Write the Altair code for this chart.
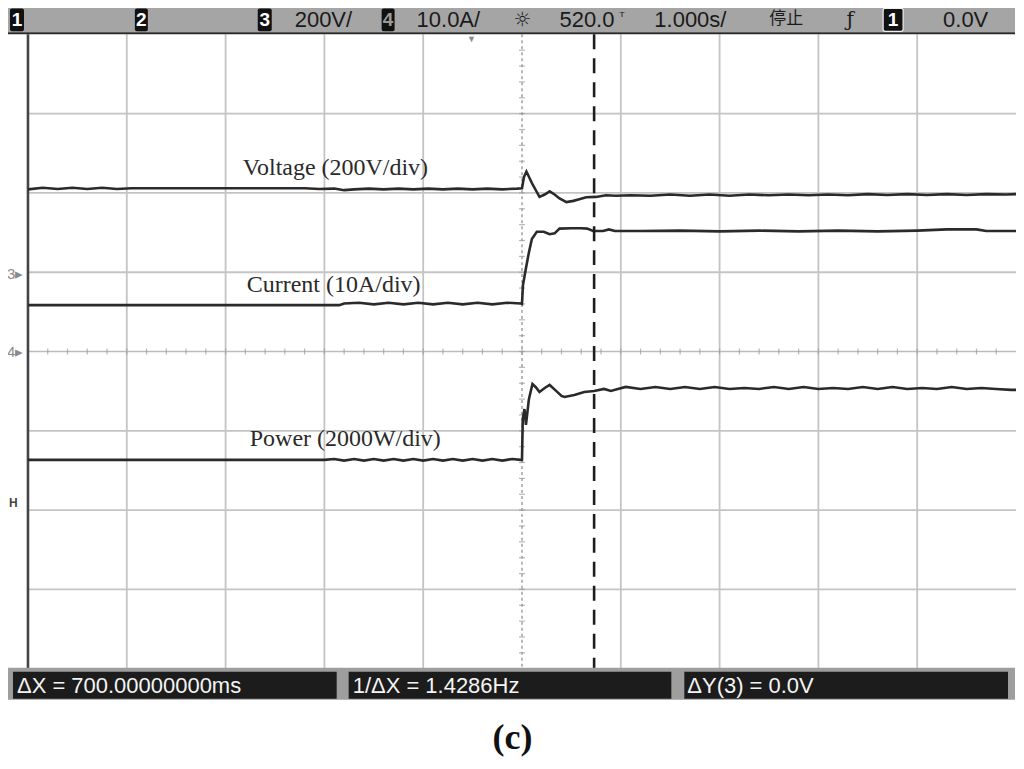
import altair as alt
import pandas as pd
import numpy as np

# ---------------- oscilloscope settings ----------------
VOLT_PER_DIV = 200.0    # channel 3
AMP_PER_DIV = 10.0      # channel 4
WATT_PER_DIV = 2000.0   # math channel
VOLT_GROUND_DIV = 1.0
AMP_GROUND_DIV = 0.0
WATT_GROUND_DIV = -2.0
CURSOR_T = 0.73         # second time cursor (s)

# ---------------- traces (time in s) ----------------
volt_t = [-5.0, -4.85, -4.7, -4.55, -4.4, -4.25, -4.1, -3.95, -3.8,
          -3.4, -3.0, -2.6, -2.2,
          -2.05, -1.9, -1.8, -1.7, -1.55, -1.4, -1.25, -1.1, -0.95, -0.8, -0.65, -0.5, -0.35, -0.2, -0.05,
          0.0,
          0.02, 0.045, 0.1, 0.177, 0.23, 0.28, 0.33, 0.38, 0.45, 0.52, 0.58, 0.65, 0.75, 0.85, 0.95, 1.1,
          1.3, 1.5, 1.7, 1.9, 2.1, 2.3, 2.5, 2.7, 2.9, 3.1, 3.3, 3.5, 3.7, 3.9, 4.1, 4.3, 4.5, 4.7, 4.9, 5.0]
volt_v = [209, 213, 210, 213, 210, 213, 210, 212, 212,
          212, 212, 212, 212,
          210, 211, 207, 209, 211, 209, 211, 209, 211, 209, 211, 209, 211, 209, 211,
          212,
          240, 254, 225, 190, 196, 204, 196, 186, 177, 180, 184, 189, 190, 194, 193, 194,
          193, 196, 193, 196, 193, 196, 194, 196, 194, 196, 194, 197, 195, 197, 195, 197, 195, 197, 196, 197]

curr_t = [-5.0, -1.85, -1.8,
          -1.65, -1.5, -1.35, -1.2, -1.05, -0.9, -0.75, -0.6, -0.45, -0.3, -0.15, -0.01,
          0.0, 0.01, 0.04, 0.07, 0.1, 0.15, 0.22, 0.28, 0.33, 0.38, 0.5, 0.6, 0.66, 0.72, 0.82, 0.88, 0.94,
          1.2, 1.6, 2.0, 2.4, 2.8, 3.2, 3.6, 4.0, 4.3, 4.6, 4.7, 5.0]
curr_a = [5.85, 5.85, 6.05,
          6.15, 5.95, 6.15, 5.95, 6.15, 5.95, 6.15, 5.95, 6.15, 5.95, 6.15, 6.05,
          6.0, 8.4, 10.5, 12.5, 14.2, 15.1, 15.1, 14.8, 14.9, 15.5, 15.55, 15.55, 15.5, 15.2, 15.2, 15.4, 15.2,
          15.2, 15.25, 15.15, 15.25, 15.15, 15.25, 15.15, 15.25, 15.4, 15.4, 15.2, 15.2]

pow_t = [-5.0, -2.0,
         -1.9, -1.8, -1.7, -1.6, -1.5, -1.4, -1.3, -1.2, -1.1, -1.0, -0.9, -0.8, -0.7, -0.6, -0.5, -0.4, -0.3, -0.2, -0.1,
         -0.01, 0.0,
         0.008, 0.025, 0.04, 0.07, 0.106, 0.14, 0.177, 0.23, 0.28, 0.34, 0.4, 0.43, 0.53, 0.63, 0.73, 0.83, 0.9, 0.97, 1.05,
         1.2, 1.35, 1.5, 1.65, 1.8, 1.95, 2.1, 2.25, 2.4, 2.55, 2.7, 2.85, 3.0, 3.15, 3.3, 3.45, 3.6, 3.75, 3.9, 4.05,
         4.2, 4.35, 4.5, 4.65, 4.8, 4.95, 5.0]
pow_w = [1268, 1268,
         1290, 1250, 1290, 1250, 1290, 1250, 1290, 1250, 1290, 1250, 1290, 1250, 1290, 1250, 1290, 1250, 1290, 1250, 1290,
         1268, 1268,
         2300, 2550, 2150, 2800, 3182, 3100, 2981, 3080, 3157, 3020, 2880, 2855, 2905, 2981, 3006, 3057, 3006, 3057, 3107,
         3057, 3107, 3057, 3107, 3057, 3107, 3057, 3082, 3057, 3107, 3057, 3107, 3057, 3082, 3057, 3107,
         3057, 3107, 3057, 3082, 3057, 3107, 3057, 3082, 3057, 3032, 3032]

# graticule (divisions)
grid_t = [-4, -3, -2, -1, 1, 2, 3, 4]
grid_d = [-3, -2, -1, 1, 2, 3]

trace_labels = ["Voltage (200V/div)", "Current (10A/div)", "Power (2000W/div)"]
top_texts = ["200V/", "10.0A/", "520.0", "1.000s/", "停止", "0.0V"]
bottom_texts = ["ΔX = 700.00000000ms", "1/ΔX = 1.4286Hz", "ΔY(3) = 0.0V"]
caption = "(c)"

# ---------------- table ----------------
frames = []
for name, t, vals, g, per in [
    ("voltage", volt_t, volt_v, VOLT_GROUND_DIV, VOLT_PER_DIV),
    ("current", curr_t, curr_a, AMP_GROUND_DIV, AMP_PER_DIV),
    ("power", pow_t, pow_w, WATT_GROUND_DIV, WATT_PER_DIV),
]:
    frames.append(pd.DataFrame({"t": t, "value": vals, "series": name,
                                "div": g + np.array(vals, dtype=float) / per}))
traces = pd.concat(frames, ignore_index=True)

W, H = 989, 635
OX, OY = 28, 34   # page position of the plot origin
xs = alt.Scale(domain=[-5, 5], nice=False, zero=False)
ys = alt.Scale(domain=[-4, 4], nice=False, zero=False)

SANS = "'Liberation Sans', Arial, sans-serif"
SERIF = "'Liberation Serif', 'Times New Roman', serif"
one = pd.DataFrame({"k": [0]})


def rect(x0, x1, y0, y1, fill, **kw):
    return alt.Chart(one).mark_rect(fill=fill, **kw).encode(
        x=alt.value(x0 - OX), x2=alt.value(x1 - OX),
        y=alt.value(y0 - OY), y2=alt.value(y1 - OY))


def text(s, x, y, size, color, font=SANS, align="left", weight="normal"):
    return alt.Chart(one).mark_text(
        text=s, fontSize=size, color=color, font=font, align=align,
        baseline="middle", fontWeight=weight).encode(
        x=alt.value(x - OX), y=alt.value(y - OY))


GRID = "#c4c4c4"
vgrid = alt.Chart(pd.DataFrame({"t": grid_t})).mark_rule(color=GRID, strokeWidth=1.8).encode(
    x=alt.X("t:Q", scale=xs, axis=None))
hgrid = alt.Chart(pd.DataFrame({"d": grid_d})).mark_rule(color=GRID, strokeWidth=1.8).encode(
    y=alt.Y("d:Q", scale=ys, axis=None))

center_h = alt.Chart(one).mark_rule(color="#bcbcbc", strokeWidth=1.6).encode(
    y=alt.Y(datum=0, scale=ys, axis=None))
center_v = alt.Chart(one).mark_rule(color="#9a9a9a", strokeWidth=1.4, strokeDash=[3, 3]).encode(
    x=alt.X(datum=0, scale=xs, axis=None))
tick_t = pd.DataFrame({"t": np.round(np.arange(-4.8, 5.0, 0.2), 2)})
tick_d = pd.DataFrame({"d": np.round(np.arange(-3.8, 4.0, 0.2), 2)})
ticks_h = alt.Chart(tick_t).mark_tick(orient="vertical", size=6, thickness=1.2, color="#9a9a9a").encode(
    x=alt.X("t:Q", scale=xs, axis=None), y=alt.Y(datum=0, scale=ys, axis=None))
ticks_v = alt.Chart(tick_d).mark_tick(orient="horizontal", size=6, thickness=1.2, color="#9a9a9a").encode(
    y=alt.Y("d:Q", scale=ys, axis=None), x=alt.X(datum=0, scale=xs, axis=None))
left_border = alt.Chart(one).mark_rule(color="#454545", strokeWidth=2.6).encode(
    x=alt.X(datum=-5, scale=xs, axis=None))

lines = alt.Chart(traces).mark_line(color="#2a2a2a", strokeWidth=2.6).encode(
    x=alt.X("t:Q", scale=xs, axis=None),
    y=alt.Y("div:Q", scale=ys, axis=None),
    detail="series:N", order="t:Q")

cursor = alt.Chart(one).mark_rule(color="#1e1e1e", strokeWidth=2.6, strokeDash=[15, 9]).encode(
    x=alt.X(datum=CURSOR_T, scale=xs, axis=None))

layers = [vgrid, hgrid, center_h, center_v, ticks_h, ticks_v, left_border, lines, cursor]

# trace labels
layers += [
    text(trace_labels[0], 243, 168, 24, "#2a2a2a", font=SERIF),
    text(trace_labels[1], 247, 285, 24, "#2a2a2a", font=SERIF),
    text(trace_labels[2], 250, 439, 24, "#2a2a2a", font=SERIF),
]

# channel markers on the left edge
layers += [
    text("3▸", 7, 274, 15, "#8a8a8a"),
    text("4▸", 7, 352, 15, "#8a8a8a"),
    text("H", 9, 503, 12, "#444444", weight="bold"),
    text("▼", 472, 39, 9, "#8a8a8a", align="center"),
]

# top status bar
layers += [
    rect(8, 1016, 6, 32, "#a5a5a5"),
    rect(8, 1016, 32, 34, "#2a2a2a"),
    rect(10, 24, 8, 31, "#111111", cornerRadius=2),
    rect(135, 148, 8, 31, "#111111", cornerRadius=2),
    rect(258, 272, 8, 31, "#111111", cornerRadius=2),
    rect(382, 395, 8, 31, "#111111", cornerRadius=2),
    rect(884, 904, 8, 31, "#111111", cornerRadius=2, stroke="#f0f0f0", strokeWidth=1.2),
    text("1", 17, 20, 19, "#ffffff", align="center", weight="bold"),
    text("2", 141.5, 20, 19, "#ffffff", align="center", weight="bold"),
    text("3", 265, 20, 19, "#ffffff", align="center", weight="bold"),
    text("4", 388.5, 20, 19, "#9a9a9a", align="center", weight="bold"),
    text("1", 894, 20, 19, "#ffffff", align="center", weight="bold"),
    text(top_texts[0], 295, 20, 22, "#1a1a1a"),
    text(top_texts[1], 417, 20, 22, "#1a1a1a"),
    text("☼", 523, 20, 20, "#1a1a1a", font="'DejaVu Sans', sans-serif", align="center"),
    text(top_texts[2], 560, 20, 22, "#1a1a1a"),
    text("ᵀ", 620, 17, 13, "#1a1a1a", font="'DejaVu Sans', sans-serif"),
    text(top_texts[3], 655, 20, 22, "#1a1a1a"),
    text(top_texts[4], 770, 19, 17, "#1a1a1a", font="'Noto Sans CJK SC', sans-serif"),
    text("ƒ", 851, 20, 20, "#1a1a1a", font="'DejaVu Serif', serif", align="center"),
    text(top_texts[5], 944, 20, 22, "#1a1a1a"),
]

# bottom measurement bar
layers += [
    rect(8, 1016, 668, 700, "#9e9e9e"),
    rect(13, 337, 672, 699, "#1c1c1c"),
    rect(349, 672, 672, 699, "#1c1c1c"),
    rect(685, 1009, 672, 699, "#1c1c1c"),
    text(bottom_texts[0], 17, 686, 22, "#f4f4f4"),
    text(bottom_texts[1], 353, 686, 22, "#f4f4f4"),
    text(bottom_texts[2], 688, 686, 22, "#f4f4f4"),
]

# caption
layers += [text(caption, 513, 738, 36, "#111111", font=SERIF, align="center", weight="bold")]

chart = alt.layer(*layers).properties(
    width=W, height=H,
    padding={"left": OX - 8, "top": OY - 8, "right": 0, "bottom": 100},
    autosize=alt.AutoSizeParams(type="none"),
    background="#ffffff",
).configure_view(strokeWidth=0)

chart.save("out.html", embed_options={"renderer": "svg", "actions": False})
